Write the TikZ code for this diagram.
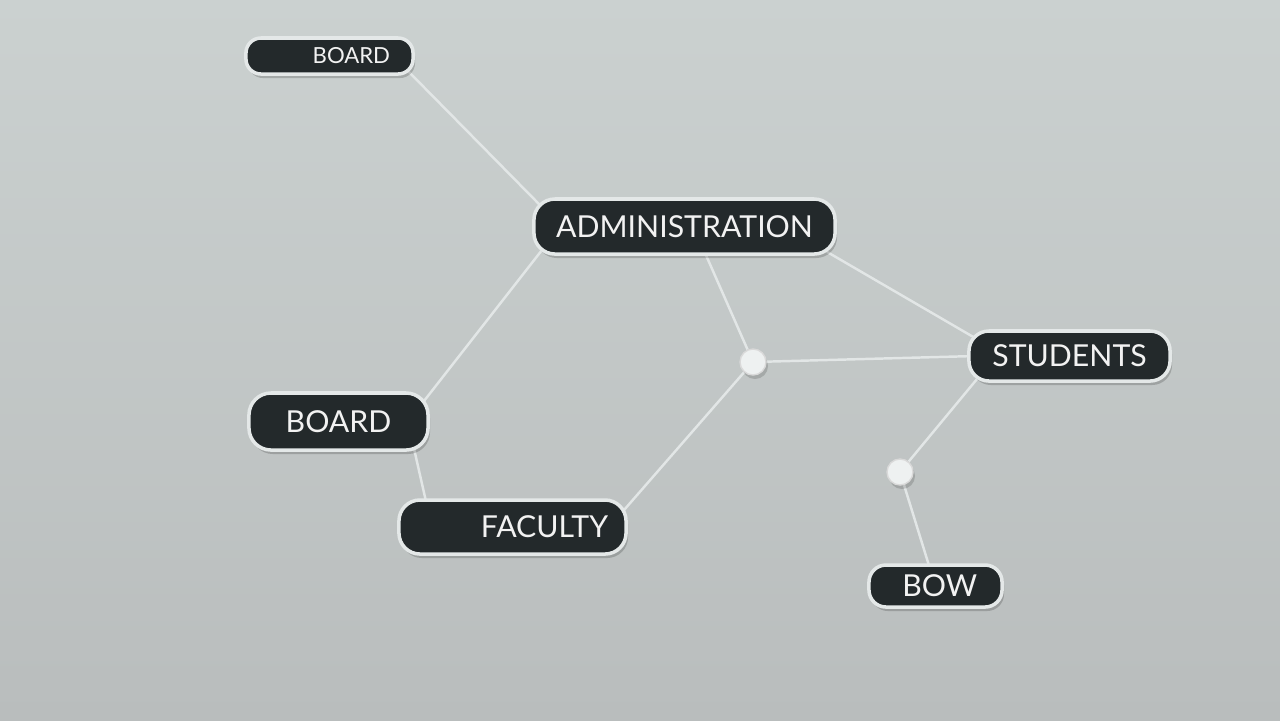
\documentclass[tikz,border=0pt]{standalone}
\usepackage{fontspec}
\setmainfont{Lato}
\usepackage{tikz}
\usetikzlibrary{calc,shadows}

\definecolor{bgtop}{HTML}{CBD1D0}
\definecolor{bgbot}{HTML}{B9BDBD}
\definecolor{pillfill}{HTML}{23292B}
\definecolor{pillrim}{HTML}{E4E8E8}
\definecolor{wire}{HTML}{E2E6E6}
\definecolor{dotfill}{HTML}{EEF1F1}

\pgfdeclarelayer{background}
\pgfsetlayers{background,main}

\tikzset{
	pill/.style={rectangle, rounded corners=2mm, fill=pillfill, draw=pillrim, line width=1pt,
		text=white!95!black, font=\fontsize{8.6}{10}\selectfont, inner ysep=0pt,
		drop shadow={shadow xshift=0.2mm, shadow yshift=-0.4mm, opacity=0.18, fill=black}},
	joint/.style={circle, fill=dotfill, draw=white!85!black, line width=0.4pt, minimum size=2.6mm, inner sep=0pt,
		drop shadow={shadow xshift=0.2mm, shadow yshift=-0.4mm, opacity=0.15, fill=black}},
	wire/.style={draw=wire, line width=0.7pt}
}

\begin{document}
\begin{tikzpicture}[x=0.01cm, y=-0.01cm]
		\useasboundingbox (0,0) rectangle (1280,720);
		\begin{pgfonlayer}{background}
			\shade[top color=bgtop, bottom color=bgbot] (0,0) rectangle (1280,720);
		\end{pgfonlayer}
		% labels
		\node[pill, minimum width=16.7mm, minimum height=3.6mm, rounded corners=1.5mm, inner xsep=2.3mm, text width=12.1mm, align=right, font=\fontsize{6.3}{7}\selectfont] (boardtop) at (329.5,56) {BOARD};
		\node[pill, minimum width=30.1mm, minimum height=5.5mm, rounded corners=2.1mm] (admin) at (684.5,226.5) {ADMINISTRATION};
		\node[pill, minimum width=20.1mm, minimum height=5.0mm, rounded corners=2mm] (students) at (1069.5,356) {STUDENTS};
		\node[pill, minimum width=17.9mm, minimum height=5.7mm, rounded corners=2.2mm] (boardmid) at (338.5,421.5) {BOARD};
		\node[pill, minimum width=22.7mm, minimum height=5.4mm, rounded corners=2.1mm, inner xsep=1.8mm, text width=19.1mm, align=right] (faculty) at (512.5,527) {FACULTY};
		\node[pill, minimum width=13.3mm, minimum height=4.2mm, rounded corners=1.7mm, inner xsep=2.5mm, text width=8.3mm, align=right] (bow) at (935.5,586) {BOW};
		% joints
		\node[joint] (j1) at (753,362) {};
		\node[joint] (j2) at (900,472) {};
		% wires
		\begin{pgfonlayer}{background}
			\draw[wire] ($(boardtop.south east)+(-8,-6)$) -- ($(admin.north west)+(8,8)$);
			\draw[wire] ($(admin.south west)+(10,-6)$) -- ($(boardmid.north east)+(-6,10)$);
			\draw[wire] ($(boardmid.south east)+(-16,-4)$) -- ($(faculty.north west)+(29,4)$);
			\draw[wire] ($(faculty.north east)+(-4,12)$) -- (j1);
			\draw[wire] ($(admin.south)+(20,-4)$) -- (j1);
			\draw[wire] (j1) -- ($(students.west)+(8,0)$);
			\draw[wire] ($(admin.south east)+(-10,-4)$) -- ($(students.north west)+(10,10)$);
			\draw[wire] ($(students.south west)+(10,-4)$) -- (j2);
			\draw[wire] (j2) -- ($(bow.north)+(-6,4)$);
		\end{pgfonlayer}
	\end{tikzpicture}
\end{document}
